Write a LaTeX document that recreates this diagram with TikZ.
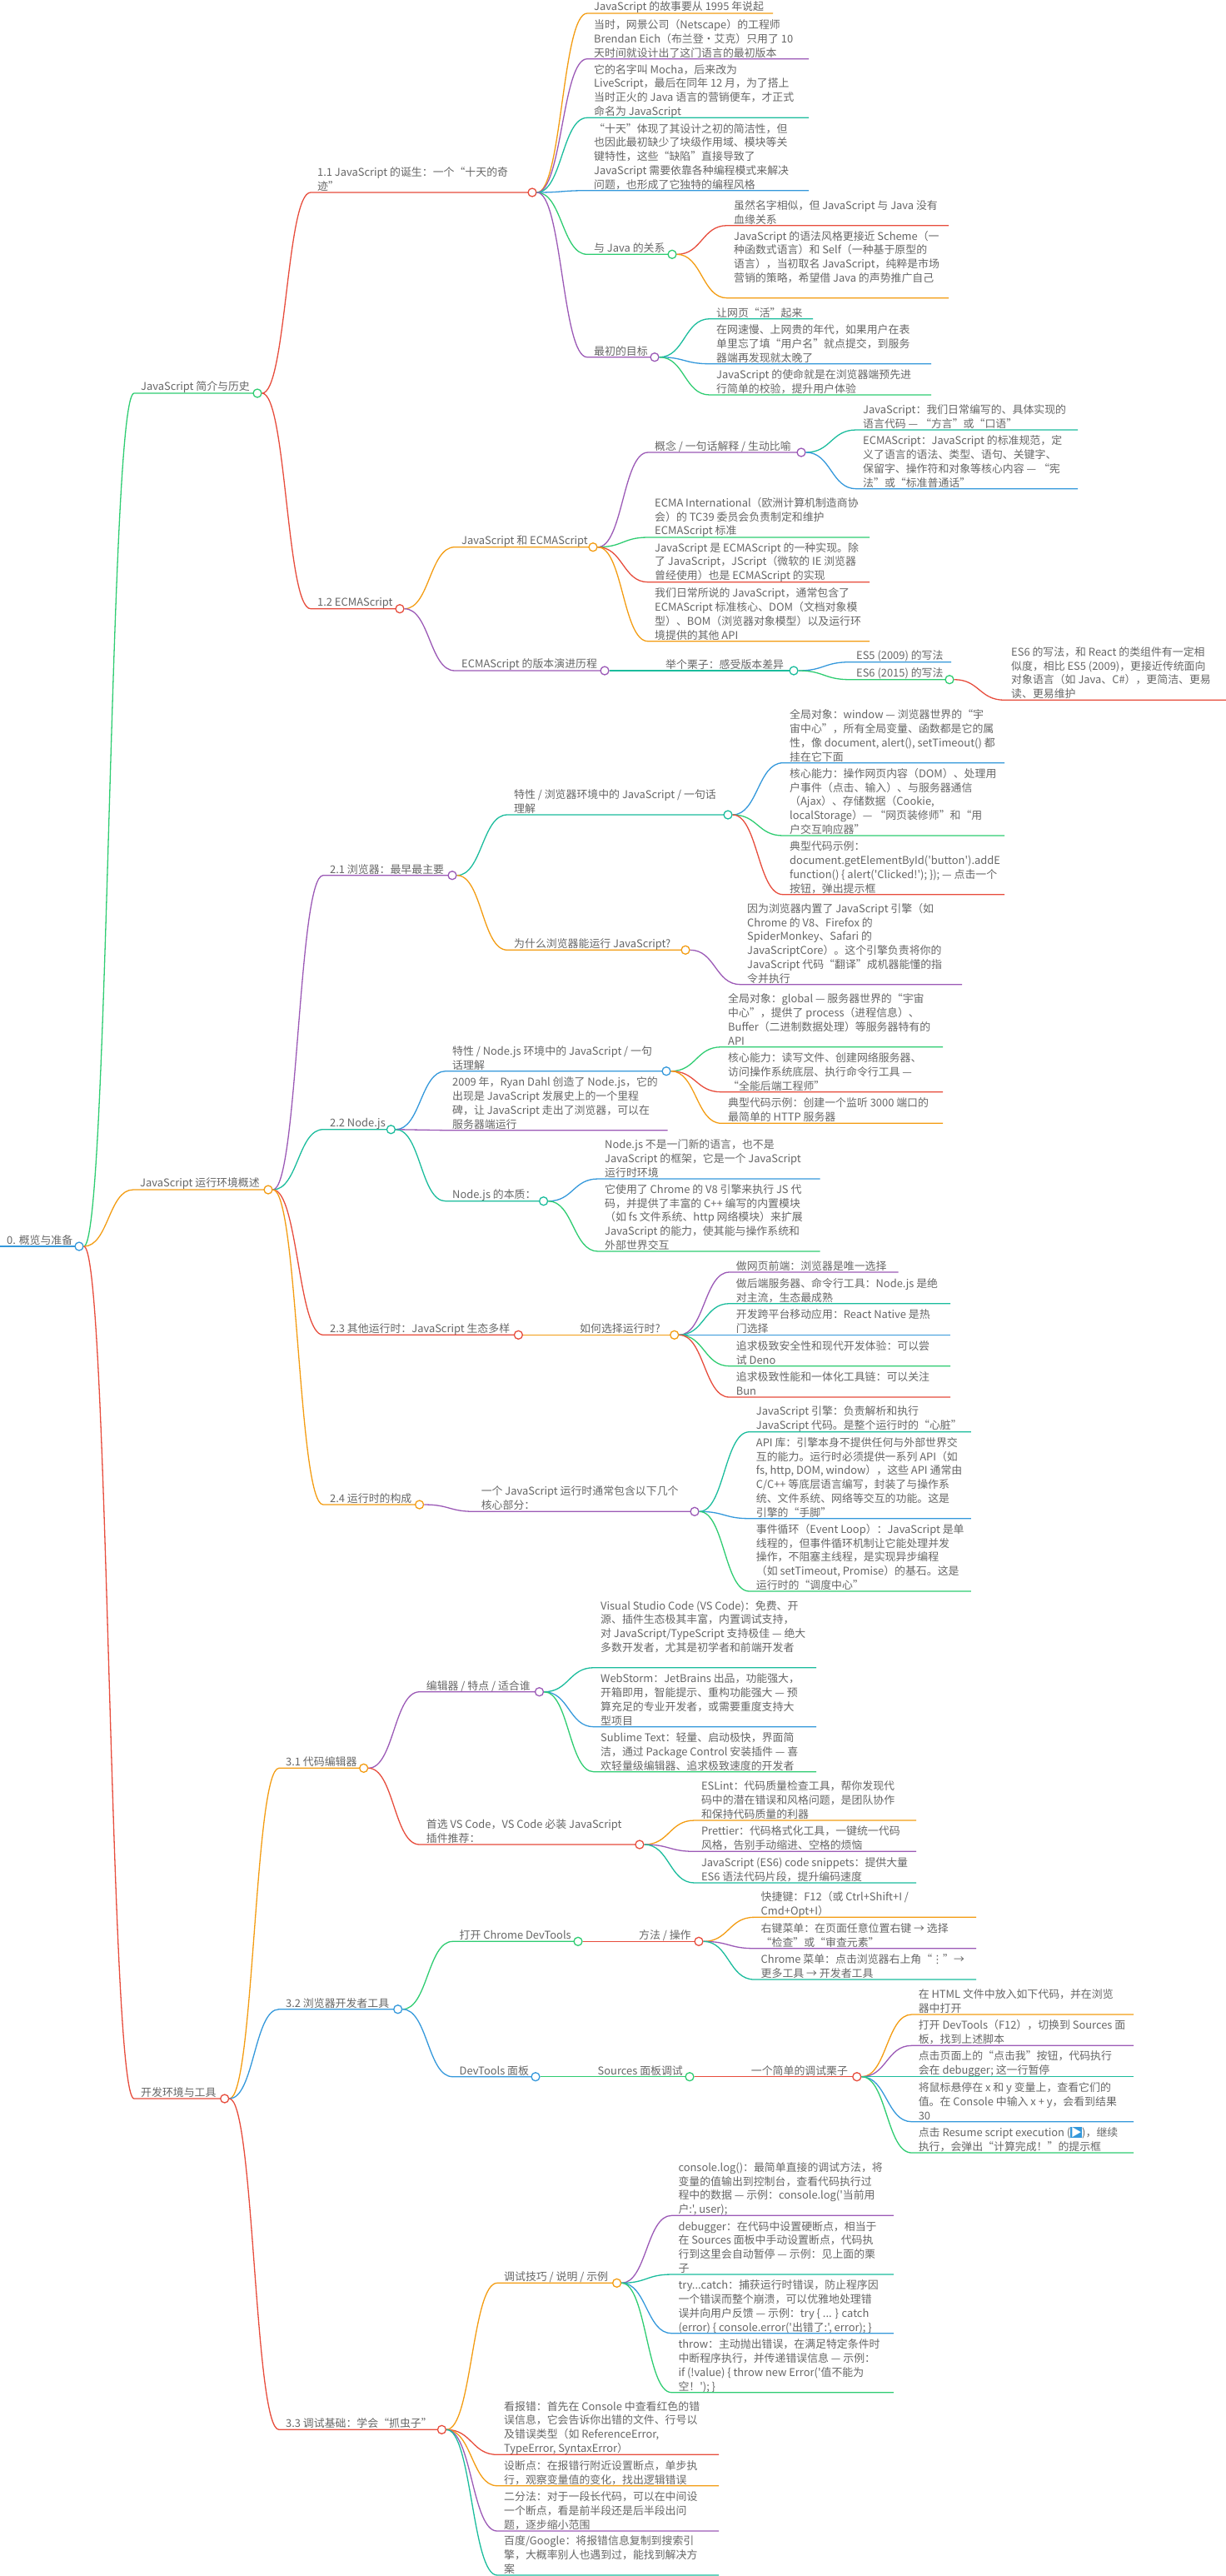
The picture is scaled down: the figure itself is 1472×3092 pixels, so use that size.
\documentclass[tikz,border=0pt]{standalone}
\usepackage{xcolor}
\usepackage{fontspec}
\usetikzlibrary{calc}
\newfontfamily\mapfont{Noto Sans CJK SC}
\newfontfamily\dotsfont{DejaVu Sans}
\definecolor{MapRed}{HTML}{E74C3C}
\definecolor{MapOrange}{HTML}{F39C12}
\definecolor{MapPurple}{HTML}{9B59B6}
\definecolor{MapTeal}{HTML}{1ABC9C}
\definecolor{MapBlue}{HTML}{3498DB}
\definecolor{MapGreen}{HTML}{2ECC71}
\definecolor{MapText}{HTML}{666666}
\newcommand{\linefoot}{\rule[-2.5pt]{0pt}{10pt}}
\tikzset{
  maptext/.style={anchor=south west, inner sep=0pt, align=left, text=MapText,
    font=\mapfont\fontsize{12.9pt}{16.7pt}\selectfont, execute at end node=\linefoot},
  mapdot/.style={circle, fill=white, minimum size=10pt, inner sep=0pt, line width=1.3pt},
  branch/.style={line width=1.3pt},
  link/.style={to path={let \p1=(\tikztostart), \p2=(\tikztotarget) in
    .. controls ({(\x1+\x2)/2},\y1) and ({(\x1+\x2)/2},\y2) .. (\tikztotarget)}}
}
% parent, name, colour, line start, line end, y, text
\newcommand{\leaf}[7]{%
  \node[maptext] (#2t) at (#4+8,#6) {#7};
  \coordinate (#2s) at (#4,#6);
  \coordinate (#2) at (#5,#6);
  \draw[branch, #3] (#1.east) to[link] (#2s) -- (#2);
}
\newcommand{\fork}[7]{%
  \node[maptext] (#2t) at (#4+8,#6) {#7};
  \coordinate (#2s) at (#4,#6);
  \coordinate (#2e) at (#5,#6);
  \draw[branch, #3] (#1.east) to[link] (#2s) -- (#2e);
  \node[mapdot, draw=#3] (#2) at (#5,#6) {};
}
\begin{document}
\begin{tikzpicture}[x=1pt, y=-1pt]
  \useasboundingbox (0,0) rectangle (1472,3092);

  % Root
  \coordinate (roots) at (0,1496);
  \coordinate (roote) at (95,1496);
  \node[maptext] (roott) at (8,1496) {0. 概览与准备};
  \draw[branch, MapBlue] (roots) -- (roote);
  \node[mapdot, draw=MapBlue] (root) at (roote) {};

  % Part 1
  \fork{root}{intro}{MapGreen}{161}{309}{472}{JavaScript 简介与历史}
  \fork{intro}{birth}{MapRed}{373}{639}{231}{1.1 JavaScript 的诞生：一个“十天的奇\\迹”}
  \leaf{birth}{story}{MapOrange}{705}{928}{16}{JavaScript 的故事要从 1995 年说起}
  \leaf{birth}{brendan}{MapPurple}{705}{971}{70.7}{当时，网景公司（Netscape）的工程师\\Brendan Eich（布兰登·艾克）只用了 10\\天时间就设计出了这门语言的最初版本}
  \leaf{birth}{mocha}{MapTeal}{705}{971}{141.3}{它的名字叫 Mocha，后来改为\\LiveScript，最后在同年 12 月，为了搭上\\当时正火的 Java 语言的营销便车，才正式\\命名为 JavaScript}
  \leaf{birth}{tendays}{MapBlue}{705}{971}{228.7}{“十天”体现了其设计之初的简洁性，但\\也因此最初缺少了块级作用域、模块等关\\键特性，这些“缺陷”直接导致了\\JavaScript 需要依靠各种编程模式来解决\\问题，也形成了它独特的编程风格}
  \fork{birth}{java}{MapGreen}{705}{807}{305.3}{与 Java 的关系}
  \leaf{java}{blood}{MapRed}{873}{1139}{270.7}{虽然名字相似，但 JavaScript 与 Java 没有\\血缘关系}
  \leaf{java}{scheme}{MapOrange}{873}{1139}{357.7}{JavaScript 的语法风格更接近 Scheme（一\\种函数式语言）和 Self（一种基于原型的\\语言），当初取名 JavaScript，纯粹是市场\\营销的策略，希望借 Java 的声势推广自己\\~}
  \fork{birth}{goal}{MapPurple}{705}{786}{428.7}{最初的目标}
  \leaf{goal}{alive}{MapTeal}{852}{976}{382.7}{让网页“活”起来}
  \leaf{goal}{slow}{MapBlue}{852}{1118}{436.7}{在网速慢、上网贵的年代，如果用户在表\\单里忘了填“用户名”就点提交，到服务\\器端再发现就太晚了}
  \leaf{goal}{mission}{MapGreen}{852}{1118}{474}{JavaScript 的使命就是在浏览器端预先进\\行简单的校验，提升用户体验}

  \fork{intro}{ecma}{MapRed}{373}{480}{730.7}{1.2 ECMAScript}
  \fork{ecma}{jses}{MapOrange}{546}{712}{656.7}{JavaScript 和 ECMAScript}
  \fork{jses}{idea}{MapPurple}{778}{962}{543}{概念 / 一句话解释 / 生动比喻}
  \leaf{idea}{dialect}{MapTeal}{1028}{1294}{516}{JavaScript：我们日常编写的、具体实现的\\语言代码 — “方言”或“口语”}
  \leaf{idea}{standard}{MapBlue}{1028}{1294}{586.7}{ECMAScript：JavaScript 的标准规范，定\\义了语言的语法、类型、语句、关键字、\\保留字、操作符和对象等核心内容 — “宪\\法”或“标准普通话”}
  \leaf{jses}{tcnine}{MapGreen}{778}{1044}{645}{ECMA International（欧洲计算机制造商协\\会）的 TC39 委员会负责制定和维护\\ECMAScript 标准}
  \leaf{jses}{jscript}{MapRed}{778}{1044}{698.7}{JavaScript 是 ECMAScript 的一种实现。除\\了 JavaScript，JScript（微软的 IE 浏览器\\曾经使用）也是 ECMAScript 的实现}
  \leaf{jses}{daily}{MapOrange}{778}{1044}{769.7}{我们日常所说的 JavaScript，通常包含了\\ECMAScript 标准核心、DOM（文档对象模\\型）、BOM（浏览器对象模型）以及运行环\\境提供的其他 API}
  \fork{ecma}{versions}{MapPurple}{546}{726}{805}{ECMAScript 的版本演进历程}
  \fork{versions}{sample}{MapTeal}{791}{953}{805}{举个栗子：感受版本差异}
  \leaf{sample}{esfive}{MapBlue}{1020}{1142}{794.7}{ES5 (2009) 的写法}
  \fork{sample}{essix}{MapGreen}{1020}{1140}{815.7}{ES6 (2015) 的写法}
  \leaf{essix}{react}{MapRed}{1206}{1472}{840.3}{ES6 的写法，和 React 的类组件有一定相\\似度，相比 ES5 (2009)，更接近传统面向\\对象语言（如 Java、C\#），更简洁、更易\\读、更易维护}

  % Part 2
  \fork{root}{runtime}{MapOrange}{160}{322}{1428}{JavaScript 运行环境概述}
  \fork{runtime}{browser}{MapPurple}{388}{543}{1050.7}{2.1 浏览器：最早最主要}
  \fork{browser}{brfeat}{MapTeal}{609}{874}{978}{特性 / 浏览器环境中的 JavaScript / 一句话\\理解}
  \leaf{brfeat}{window}{MapBlue}{940}{1206}{915.7}{全局对象：window — 浏览器世界的“宇\\宙中心”，所有全局变量、函数都是它的属\\性，像 document, alert(), setTimeout() 都\\挂在它下面}
  \leaf{brfeat}{brcore}{MapGreen}{940}{1206}{1003}{核心能力：操作网页内容（DOM）、处理用\\户事件（点击、输入）、与服务器通信\\（Ajax）、存储数据（Cookie,\\localStorage）— “网页装修师”和“用\\户交互响应器”}
  \leaf{brfeat}{brcode}{MapRed}{940}{1206}{1073.7}{典型代码示例：\\document.getElementById('button').addE\\function() \{ alert('Clicked!'); \}); — 点击一个\\按钮，弹出提示框}
  \fork{browser}{why}{MapOrange}{609}{823}{1140.3}{为什么浏览器能运行 JavaScript?}
  \leaf{why}{engine}{MapPurple}{889}{1155}{1181.7}{因为浏览器内置了 JavaScript 引擎（如\\Chrome 的 V8、Firefox 的\\SpiderMonkey、Safari 的\\JavaScriptCore）。这个引擎负责将你的\\JavaScript 代码“翻译”成机器能懂的指\\令并执行}

  \fork{runtime}{nodejs}{MapTeal}{388}{469.4}{1355.7}{2.2 Node.js}
  \fork{nodejs}{ndfeat}{MapBlue}{535}{800}{1285.7}{特性 / Node.js 环境中的 JavaScript / 一句\\话理解}
  \leaf{ndfeat}{global}{MapGreen}{866}{1132}{1256.7}{全局对象：global — 服务器世界的“宇宙\\中心”，提供了 process（进程信息）、\\Buffer（二进制数据处理）等服务器特有的\\API}
  \leaf{ndfeat}{ndcore}{MapRed}{866}{1132}{1310.7}{核心能力：读写文件、创建网络服务器、\\访问操作系统底层、执行命令行工具 —\\“全能后端工程师”}
  \leaf{ndfeat}{ndcode}{MapOrange}{866}{1132}{1348.3}{典型代码示例：创建一个监听 3000 端口的\\最简单的 HTTP 服务器}
  \leaf{nodejs}{dahl}{MapPurple}{535}{801.5}{1356.7}{2009 年，Ryan Dahl 创造了 Node.js，它的\\出现是 JavaScript 发展史上的一个里程\\碑，让 JavaScript 走出了浏览器，可以在\\服务器端运行}
  \fork{nodejs}{essence}{MapTeal}{535}{652.6}{1441.7}{Node.js 的本质：}
  \leaf{essence}{notnew}{MapBlue}{718}{984.7}{1415}{Node.js 不是一门新的语言，也不是\\JavaScript 的框架，它是一个 JavaScript\\运行时环境}
  \leaf{essence}{veight}{MapGreen}{718}{984.7}{1502}{它使用了 Chrome 的 V8 引擎来执行 JS 代\\码，并提供了丰富的 C++ 编写的内置模块\\（如 fs 文件系统、http 网络模块）来扩展\\JavaScript 的能力，使其能与操作系统和\\外部世界交互}

  \fork{runtime}{others}{MapRed}{388}{622.4}{1602.3}{2.3 其他运行时：JavaScript 生态多样}
  \fork{others}{choose}{MapOrange}{688}{809.7}{1602.3}{如何选择运行时?}
  \leaf{choose}{front}{MapPurple}{875.7}{1078.6}{1527}{做网页前端：浏览器是唯一选择}
  \leaf{choose}{back}{MapTeal}{875.7}{1141}{1564.7}{做后端服务器、命令行工具：Node.js 是绝\\对主流，生态最成熟}
  \leaf{choose}{mobile}{MapBlue}{875.7}{1141}{1602.3}{开发跨平台移动应用：React Native 是热\\门选择}
  \leaf{choose}{deno}{MapGreen}{875.7}{1141}{1639.7}{追求极致安全性和现代开发体验：可以尝\\试 Deno}
  \leaf{choose}{bun}{MapRed}{875.7}{1141}{1677}{追求极致性能和一体化工具链：可以关注\\Bun}

  \fork{runtime}{makeup}{MapOrange}{388}{503.6}{1806}{2.4 运行时的构成}
  \fork{makeup}{parts}{MapPurple}{569.6}{834}{1814.3}{一个 JavaScript 运行时通常包含以下几个\\核心部分：}
  \leaf{parts}{heart}{MapTeal}{899.7}{1165.8}{1718.7}{JavaScript 引擎：负责解析和执行\\JavaScript 代码。是整个运行时的“心脏”}
  \leaf{parts}{apilib}{MapBlue}{899.7}{1165.8}{1822.7}{API 库：引擎本身不提供任何与外部世界交\\互的能力。运行时必须提供一系列 API（如\\fs, http, DOM, window），这些 API 通常由\\C/C++ 等底层语言编写，封装了与操作系\\统、文件系统、网络等交互的功能。这是\\引擎的“手脚”}
  \leaf{parts}{evloop}{MapGreen}{899.7}{1165.8}{1910}{事件循环（Event Loop）：JavaScript 是单\\线程的，但事件循环机制让它能处理并发\\操作，不阻塞主线程，是实现异步编程\\（如 setTimeout, Promise）的基石。这是\\运行时的“调度中心”}

  % Part 3
  \fork{root}{tools}{MapRed}{161}{269.7}{2519}{开发环境与工具}
  \fork{tools}{editor}{MapOrange}{335}{436.7}{2122.3}{3.1 代码编辑器}
  \fork{editor}{edlist}{MapPurple}{503.7}{647.5}{2030.7}{编辑器 / 特点 / 适合谁}
  \leaf{edlist}{vscode}{MapTeal}{713}{980}{2001.7}{Visual Studio Code (VS Code)：免费、开\\源、插件生态极其丰富，内置调试支持，\\对 JavaScript/TypeScript 支持极佳 — 绝大\\多数开发者，尤其是初学者和前端开发者\\~}
  \leaf{edlist}{webstorm}{MapBlue}{713}{980}{2072.7}{WebStorm：JetBrains 出品，功能强大，\\开箱即用，智能提示、重构功能强大 — 预\\算充足的专业开发者，或需要重度支持大\\型项目}
  \leaf{edlist}{sublime}{MapGreen}{713}{980}{2126.7}{Sublime Text：轻量、启动极快，界面简\\洁，通过 Package Control 安装插件 — 喜\\欢轻量级编辑器、追求极致速度的开发者}
  \fork{editor}{plugins}{MapRed}{503.7}{767.9}{2214}{首选 VS Code，VS Code 必装 JavaScript\\插件推荐：}
  \leaf{plugins}{eslint}{MapOrange}{833.8}{1100}{2185}{ESLint：代码质量检查工具，帮你发现代\\码中的潜在错误和风格问题，是团队协作\\和保持代码质量的利器}
  \leaf{plugins}{prettier}{MapPurple}{833.8}{1100}{2222.3}{Prettier：代码格式化工具，一键统一代码\\风格，告别手动缩进、空格的烦恼}
  \leaf{plugins}{snippets}{MapTeal}{833.8}{1100}{2260}{JavaScript (ES6) code snippets：提供大量\\ES6 语法代码片段，提升编码速度}

  \fork{tools}{devtools}{MapBlue}{335}{477.7}{2411.7}{3.2 浏览器开发者工具}
  \fork{devtools}{opendev}{MapGreen}{543.5}{694}{2330.3}{打开 Chrome DevTools}
  \fork{opendev}{method}{MapRed}{759}{839}{2330.3}{方法 / 操作}
  \leaf{method}{hotkey}{MapOrange}{905.5}{1172}{2301.3}{快捷键：F12（或 Ctrl+Shift+I /\\Cmd+Opt+I）}
  \leaf{method}{rclick}{MapPurple}{905.5}{1172}{2338.7}{右键菜单：在页面任意位置右键 → 选择\\“检查”或“审查元素”}
  \leaf{method}{chmenu}{MapTeal}{905.5}{1172}{2376}{Chrome 菜单：点击浏览器右上角“{\dotsfont ⋮}”→\\更多工具 → 开发者工具}
  \fork{devtools}{panel}{MapBlue}{543.5}{643}{2492.7}{DevTools 面板}
  \fork{panel}{sources}{MapGreen}{709.5}{828}{2492.7}{Sources 面板调试}
  \fork{sources}{demo}{MapRed}{893.7}{1028.8}{2492.7}{一个简单的调试栗子}
  \leaf{demo}{html}{MapOrange}{1094.6}{1361}{2418}{在 HTML 文件中放入如下代码，并在浏览\\器中打开}
  \leaf{demo}{switch}{MapPurple}{1094.6}{1361}{2455.3}{打开 DevTools（F12），切换到 Sources 面\\板，找到上述脚本}
  \leaf{demo}{press}{MapTeal}{1094.6}{1361}{2492.7}{点击页面上的“点击我”按钮，代码执行\\会在 debugger; 这一行暂停}
  \leaf{demo}{hover}{MapBlue}{1094.6}{1361}{2546.7}{将鼠标悬停在 x 和 y 变量上，查看它们的\\值。在 Console 中输入 x + y，会看到结果\\30}
  \leaf{demo}{resume}{MapGreen}{1094.6}{1361}{2584}{点击 Resume script execution ({\setlength{\fboxsep}{0.5pt}\colorbox{MapBlue}{\textcolor{white}{▶}}})，继续\\执行，会弹出“计算完成！”的提示框}

  \fork{tools}{debug}{MapRed}{335}{530.4}{2916.3}{3.3 调试基础：学会“抓虫子”}
  \fork{debug}{skills}{MapOrange}{597}{740.6}{2740.3}{调试技巧 / 说明 / 示例}
  \leaf{skills}{conlog}{MapPurple}{806.3}{1072.8}{2659.3}{console.log()：最简单直接的调试方法，将\\变量的值输出到控制台，查看代码执行过\\程中的数据 — 示例：console.log('当前用\\户:', user);}
  \leaf{skills}{hardbp}{MapTeal}{806.3}{1072.8}{2730}{debugger：在代码中设置硬断点，相当于\\在 Sources 面板中手动设置断点，代码执\\行到这里会自动暂停 — 示例：见上面的栗\\子}
  \leaf{skills}{trycatch}{MapBlue}{806.3}{1072.8}{2800.7}{try...catch：捕获运行时错误，防止程序因\\一个错误而整个崩溃，可以优雅地处理错\\误并向用户反馈 — 示例：try \{ ... \} catch\\(error) \{ console.error('出错了:', error); \}}
  \leaf{skills}{throwerr}{MapGreen}{806.3}{1072.8}{2871.7}{throw：主动抛出错误，在满足特定条件时\\中断程序执行，并传递错误信息 — 示例：\\if (!value) \{ throw new Error('值不能为\\空！'); \}}
  \leaf{debug}{readerr}{MapRed}{597}{863}{2946.3}{看报错：首先在 Console 中查看红色的错\\误信息，它会告诉你出错的文件、行号以\\及错误类型（如 ReferenceError,\\TypeError, SyntaxError）}
  \leaf{debug}{breakpt}{MapOrange}{597}{863}{2983.7}{设断点：在报错行附近设置断点，单步执\\行，观察变量值的变化，找出逻辑错误}
  \leaf{debug}{bisect}{MapPurple}{597}{863}{3038}{二分法：对于一段长代码，可以在中间设\\一个断点，看是前半段还是后半段出问\\题，逐步缩小范围}
  \leaf{debug}{search}{MapTeal}{597}{863}{3091}{百度/Google：将报错信息复制到搜索引\\擎，大概率别人也遇到过，能找到解决方\\案}
\end{tikzpicture}
\end{document}
